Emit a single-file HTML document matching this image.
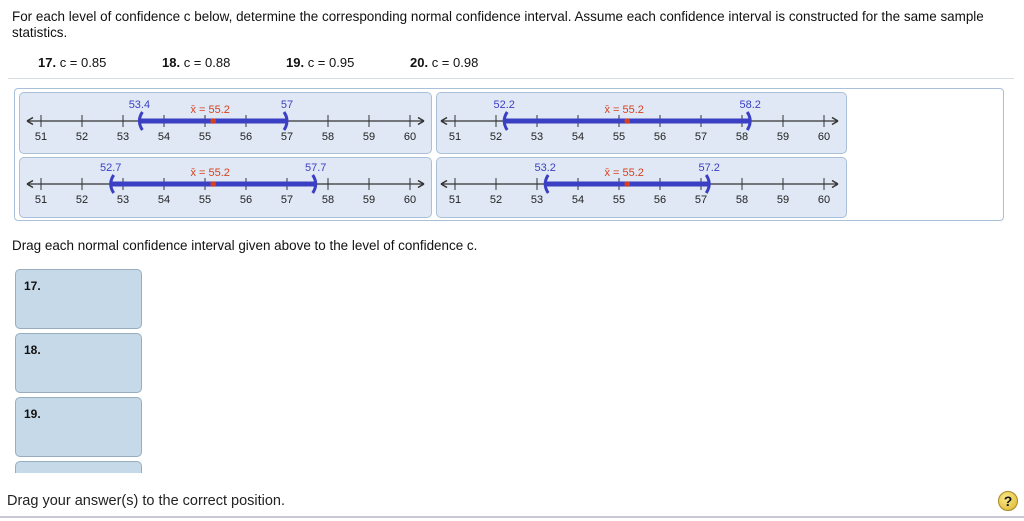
<!DOCTYPE html>
<html><head><meta charset="utf-8"><style>
body{margin:0;width:1024px;height:521px;background:#fff;font-family:"Liberation Sans",Arial,sans-serif;color:#111;position:relative;overflow:hidden}
.t{position:absolute;white-space:nowrap}
.card{position:absolute;background:#dfe8f4;border:1px solid #a9c0d8;border-radius:5px;box-sizing:border-box}
.drop{position:absolute;left:15px;width:127px;height:60px;background:#c6d9e8;border:1px solid #98aec0;border-radius:5px;box-sizing:border-box;font-weight:bold;font-size:12px;padding:9px 0 0 8px}
</style></head><body>
<div class="t" style="left:12px;top:9px;font-size:13.45px">For each level of confidence c below, determine the corresponding normal confidence interval. Assume each confidence interval is constructed for the same sample</div>
<div class="t" style="left:12px;top:25px;font-size:13.45px">statistics.</div>
<div class="t" style="left:38px;top:55px;font-size:13px"><b>17.</b> c = 0.85</div>
<div class="t" style="left:162px;top:55px;font-size:13px"><b>18.</b> c = 0.88</div>
<div class="t" style="left:286px;top:55px;font-size:13px"><b>19.</b> c = 0.95</div>
<div class="t" style="left:410px;top:55px;font-size:13px"><b>20.</b> c = 0.98</div>
<div style="position:absolute;left:8px;top:78px;width:1006px;height:1px;background:#d8dde4"></div>
<div style="position:absolute;left:14px;top:88px;width:990px;height:133px;border:1px solid #a9c0d8;border-radius:4px;box-sizing:border-box"></div>
<div class="card" style="left:19px;top:92px;width:413px;height:62px"></div>
<div class="card" style="left:19px;top:157px;width:413px;height:61px"></div>
<div class="card" style="left:436px;top:92px;width:411px;height:62px"></div>
<div class="card" style="left:436px;top:157px;width:411px;height:61px"></div>
<svg id="lines" width="1024" height="230" style="position:absolute;left:0;top:0"></svg>
<div class="t" style="left:12px;top:238px;font-size:13.45px">Drag each normal confidence interval given above to the level of confidence c.</div>
<div class="drop" style="top:269px">17.</div>
<div class="drop" style="top:333px">18.</div>
<div class="drop" style="top:397px">19.</div>
<div style="position:absolute;left:0;top:461px;width:200px;height:12px;overflow:hidden"><div class="drop" style="top:0">20.</div></div>
<div class="t" style="left:7px;top:493px;font-size:14.5px;color:#222">Drag your answer(s) to the correct position.</div>
<div style="position:absolute;left:0;top:516px;width:1024px;height:2px;background:#c9c9d6"></div>
<div style="position:absolute;left:998px;top:491px;width:20px;height:20px;border-radius:50%;background:radial-gradient(circle at 40% 35%,#fbe98a,#d9b52e);border:1px solid #a98a20;box-sizing:border-box;text-align:center;font-weight:bold;font-size:14px;line-height:19px">?</div>
<script>
const lows=[53.4,52.2,52.7,53.2];
const highs=[57,58.2,57.7,57.2];
const means=[55.2,55.2,55.2,55.2];
const ticks=[51,52,53,54,55,56,57,58,59,60];
const origins=[[41,121],[455,121],[41,184],[455,184]];
const svg=document.getElementById('lines');
const NS='http://www.w3.org/2000/svg';
function mk(t,a){const e=document.createElementNS(NS,t);for(const k in a)e.setAttribute(k,a[k]);svg.appendChild(e);return e;}
lows.forEach((lo,i)=>{
 const [ox,oy]=origins[i];
 const X=v=>ox+(v-51)*41;
 const ax=mk('line',{x1:X(51)-13,y1:oy,x2:X(60)+13,y2:oy,stroke:'#333','stroke-width':1.2});
 
 mk('path',{d:`M${X(51)-14},${oy} l6,-3.5 m-6,3.5 l6,3.5 M${X(60)+14},${oy} l-6,-3.5 m6,3.5 l-6,3.5`,stroke:'#333','stroke-width':1.5,fill:'none'});
 ticks.forEach(t=>{
  mk('line',{x1:X(t),y1:oy-6,x2:X(t),y2:oy+6,stroke:'#333','stroke-width':1});
  const tx=mk('text',{x:X(t),y:oy+19,'font-size':11,'text-anchor':'middle',fill:'#222'});tx.textContent=t;
  
 });
 const hi=highs[i];
 const bar=mk('line',{x1:X(lo),y1:oy,x2:X(hi),y2:oy,stroke:'#3b3fc4','stroke-width':5});
 
 mk('path',{d:`M${X(lo)+3},${oy-9} Q${X(lo)-3},${oy} ${X(lo)+3},${oy+9}`,stroke:'#3b3fc4','stroke-width':3,fill:'none'});
 mk('path',{d:`M${X(hi)-3},${oy-9} Q${X(hi)+3},${oy} ${X(hi)-3},${oy+9}`,stroke:'#3b3fc4','stroke-width':3,fill:'none'});
 const l1=mk('text',{x:X(lo),y:oy-13,'font-size':11,'text-anchor':'middle',fill:'#3b3fc4'});l1.textContent=lo;
 
 const l2=mk('text',{x:X(hi),y:oy-13,'font-size':11,'text-anchor':'middle',fill:'#3b3fc4'});l2.textContent=hi;
 
 const m=means[i];
 mk('circle',{cx:X(m),cy:oy,r:2.8,fill:'#d8401e'});
 const ml=mk('text',{x:X(m)-3,y:oy-8,'font-size':11,'text-anchor':'middle',fill:'#d8401e'});ml.textContent='x\u0304 = '+m;
 
});
</script>
</body></html>
